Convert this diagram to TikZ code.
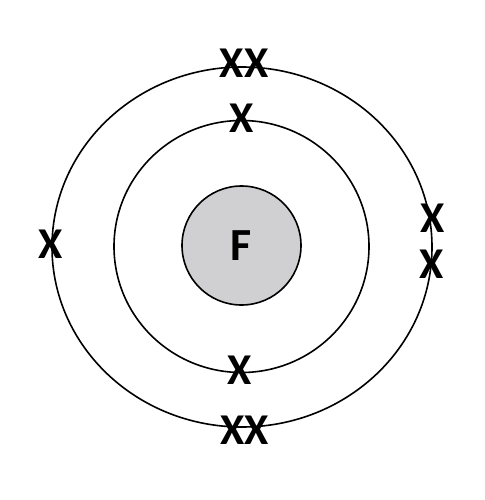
\documentclass[tikz,border=0pt]{standalone}
\usepackage{fontspec}
\setmainfont{Carlito}
\definecolor{nucgray}{RGB}{208,207,209}
\tikzset{
  shell/.style={draw=black, line width=1.6pt},
  electron/.style={inner sep=0pt, font=\fontsize{44}{44}\selectfont\bfseries},
  nucleus/.style={circle, draw=black, line width=1.6pt, fill=nucgray, minimum size=119pt, inner sep=0pt, font=\fontsize{46}{46}\selectfont\bfseries}
}
\begin{document}
\begin{tikzpicture}[x=1pt,y=-1pt]
\useasboundingbox (0,0) rectangle (484,500);
\path[shell] (242,247) ellipse [x radius=190, y radius=180];
\path[shell] (241.5,246.5) ellipse [x radius=127.5, y radius=126];
\node[nucleus] (nuc) at (241.5,245.5) {F};
\node[electron] (o1) at (244,63) {XX};
\node[electron] (o2) at (51,244) {X};
\node[electron] (o3) at (432.5,218) {X};
\node[electron] (o4) at (432,264) {X};
\node[electron] (o5) at (244.5,430.5) {XX};
\node[electron] (i1) at (241.5,118.5) {X};
\node[electron] (i2) at (240,370) {X};
\end{tikzpicture}
\end{document}
